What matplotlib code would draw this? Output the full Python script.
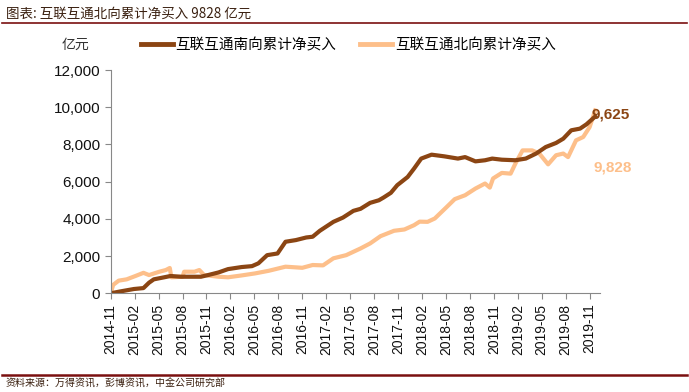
import matplotlib.pyplot as plt
from matplotlib.lines import Line2D

plt.rcParams['font.family'] = ['Liberation Sans', 'Noto Sans CJK SC', 'DejaVu Sans']

# months since 2014-11 and cumulative net buying (100m RMB)
south_m = [0, 1.2, 2.9, 4.1, 4.8, 5.4, 6.7, 7.5, 8.8, 11.3, 12.2, 13.5, 14.7, 16.4,
           17.7, 18.5, 19.6, 20.9, 21.9, 23.2, 24.5, 25.3, 26.2, 27.9, 29.1, 30.4,
           31.3, 32.5, 33.6, 34.2, 35.1, 35.9, 37.2, 38.0, 38.9, 40.2, 41.8, 43.5,
           44.4, 45.7, 46.9, 47.8, 49.0, 50.7, 52.0, 53.3, 54.5, 55.8, 56.7, 57.7,
           58.8, 59.6, 60.7]
south_v = [0, 100, 230, 280, 570, 750, 860, 930, 890, 890, 980, 1120, 1300, 1410,
           1460, 1610, 2050, 2140, 2770, 2860, 3000, 3040, 3360, 3840, 4070, 4430,
           4540, 4860, 5000, 5150, 5400, 5810, 6250, 6700, 7240, 7450, 7360, 7240,
           7320, 7090, 7150, 7240, 7180, 7150, 7240, 7510, 7860, 8080, 8310, 8760,
           8850, 9080, 9500]

north_m = [0, 0.3, 1.0, 2.0, 3.1, 4.1, 4.8, 6.1, 6.9, 7.4, 7.6, 9.0, 9.2, 10.5,
           11.1, 11.7, 13.5, 14.7, 16.4, 18.1, 19.8, 21.9, 24.0, 25.3, 26.6, 27.9,
           29.5, 31.3, 32.5, 33.8, 35.5, 36.8, 38.0, 38.7, 39.7, 40.6, 42.1, 43.1,
           44.4, 45.7, 46.9, 47.5, 47.9, 49.0, 50.1, 50.7, 51.6, 52.8, 53.7, 54.8,
           55.8, 56.7, 57.3, 58.3, 59.2, 60.0, 60.7]
north_v = [0, 450, 680, 750, 930, 1100, 980, 1160, 1250, 1360, 860, 890, 1160, 1160,
           1250, 980, 890, 860, 960, 1070, 1210, 1430, 1370, 1520, 1500, 1880,
           2050, 2410, 2680, 3070, 3360, 3430, 3660, 3850, 3840, 4020, 4640, 5060,
           5270, 5630, 5900, 5680, 6170, 6470, 6430, 6970, 7680, 7680, 7510, 6930,
           7420, 7510, 7320, 8220, 8400, 8930, 9828]

tick_labels = ['2014-11', '2015-02', '2015-05', '2015-08', '2015-11', '2016-02',
               '2016-05', '2016-08', '2016-11', '2017-02', '2017-05', '2017-08',
               '2017-11', '2018-02', '2018-05', '2018-08', '2018-11', '2019-02',
               '2019-05', '2019-08', '2019-11']

south_color = '#8B4513'
north_color = '#FDBF8A'
cjk = ['Noto Sans CJK SC', 'DejaVu Sans']

fig = plt.figure(figsize=(6.89, 3.92), dpi=100)
ax = fig.add_axes([0.1607, 0.2518, 0.7101, 0.5696])

ax.plot(north_m, north_v, color=north_color, lw=3)
ax.plot(south_m, south_v, color=south_color, lw=3)

ax.set_xlim(0, 61.3)
ax.set_ylim(0, 12000)
ax.set_yticks(range(0, 12001, 2000))
ax.set_yticklabels([f'{v:,}' for v in range(0, 12001, 2000)], fontsize=11, color='#111111')
ax.set_xticks(range(0, 61, 3))
ax.set_xticklabels(tick_labels, rotation=90, fontsize=10, color='#111111')
for s in ['top', 'right']:
    ax.spines[s].set_visible(False)
for s in ['left', 'bottom']:
    ax.spines[s].set_color('#888888')
ax.tick_params(axis='both', color='#888888', length=4)

ax.text(60.3, 9625, '9,625', color=south_color, fontsize=11, fontweight='bold', va='center')
ax.text(60.5, 6770, '9,828', color=north_color, fontsize=11, fontweight='bold', va='center')

# title, rules and source
fig.text(0.008, 0.965, '图表: 互联互通北向累计净买入 9828 亿元', fontsize=9.7,
         color='#3a2010', va='center', family=cjk)
fig.add_artist(Line2D([0.003, 0.997], [0.942, 0.942], color='#7a1010', lw=1.2))
fig.add_artist(Line2D([0.003, 0.997], [0.043, 0.043], color='#7a1010', lw=1.8))
fig.text(0.008, 0.022, '资料来源：万得资讯，彭博资讯，中金公司研究部', fontsize=7.2,
         color='#3a2010', va='center', family=cjk)

fig.text(0.09, 0.885, '亿元', fontsize=10, color='#333333', va='center', family=cjk)

# legend
handles = [Line2D([], [], color=south_color, lw=3.5),
           Line2D([], [], color=north_color, lw=3.5)]
fig.legend(handles, ['互联互通南向累计净买入', '互联互通北向累计净买入'],
           loc='center left', bbox_to_anchor=(0.185, 0.885), ncol=2, frameon=False,
           handlelength=2.2, handletextpad=0.2, columnspacing=1.6,
           prop={'family': cjk, 'size': 10.5})

fig.savefig('out.png', dpi=100)
